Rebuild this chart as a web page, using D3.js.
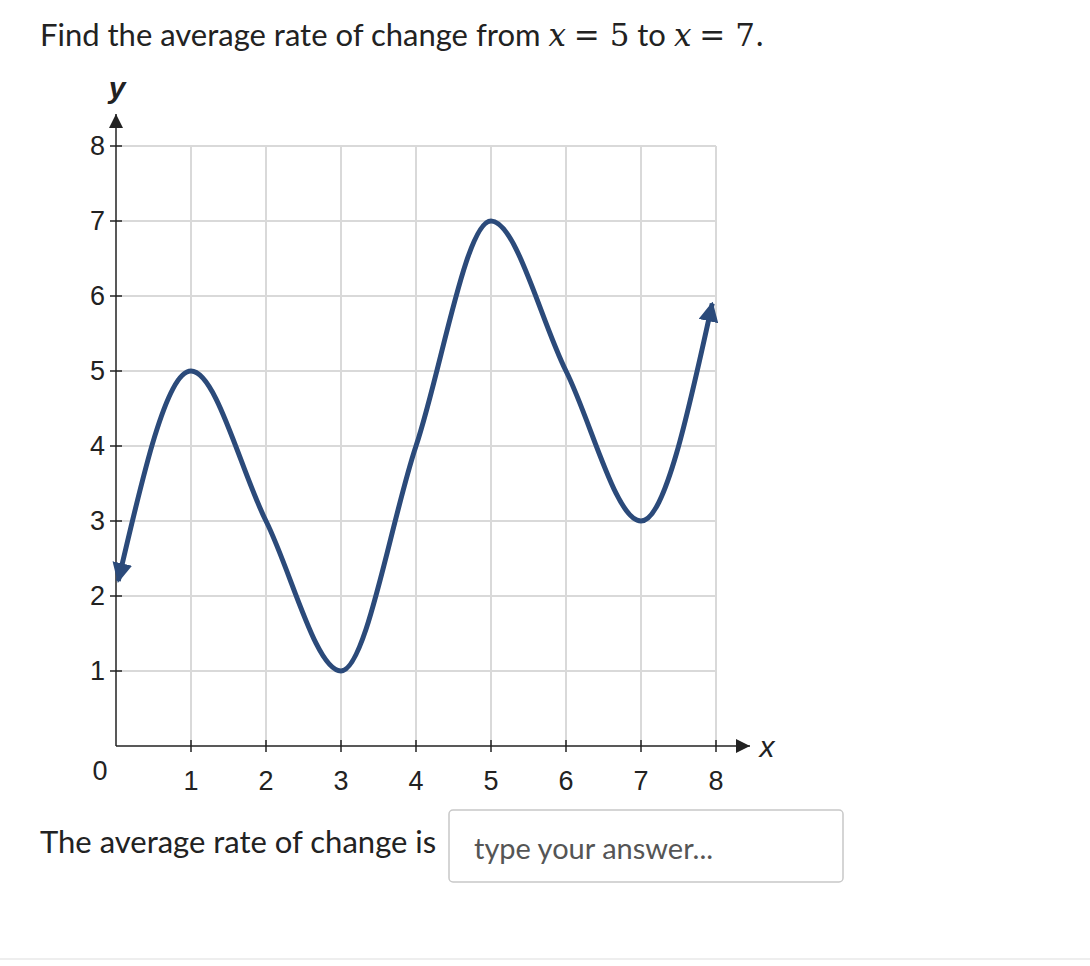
<!DOCTYPE html>
<html><head><meta charset="utf-8">
<script src="https://cdn.jsdelivr.net/npm/d3@7"></script>
<style>body{margin:0;background:#fff;}</style>
</head><body>
<script>
// data
var xTicks = [1, 2, 3, 4, 5, 6, 7, 8];
var yTicks = [1, 2, 3, 4, 5, 6, 7, 8];
var curveX = [0.03, 1, 2, 3, 4, 5, 6, 7, 7.95];
var curveY = [2.2, 5, 3, 1, 4, 7, 5, 3, 5.9];

var svg = d3.select("body").append("svg").attr("width", 1090).attr("height", 966);
var x = d3.scaleLinear().domain([0, 8]).range([116, 716]);
var y = d3.scaleLinear().domain([0, 8]).range([746, 146]);
var font = "Lato, 'Open Sans', sans-serif";

svg.append("text").attr("x", 40).attr("y", 46).attr("font-family", font).attr("font-size", 31).attr("fill", "#222")
    .html("Find the average rate of change from <tspan font-family='DejaVu Serif' font-style='italic'>x</tspan> <tspan font-family='DejaVu Serif'>= 5</tspan> to <tspan font-family='DejaVu Serif' font-style='italic'>x</tspan> <tspan font-family='DejaVu Serif'>= 7.</tspan>");

var defs = svg.append("defs");
defs.append("marker").attr("id", "ah").attr("viewBox", "0 0 10 10").attr("refX", 9).attr("refY", 5)
    .attr("markerWidth", 4).attr("markerHeight", 4).attr("orient", "auto-start-reverse")
    .append("path").attr("d", "M0,0L10,5L0,10z").attr("fill", "#2b4a7a");
defs.append("marker").attr("id", "ax").attr("viewBox", "0 0 10 10").attr("refX", 10).attr("refY", 5)
    .attr("markerWidth", 14).attr("markerHeight", 14).attr("markerUnits", "userSpaceOnUse").attr("orient", "auto")
    .append("path").attr("d", "M0,0L10,5L0,10z").attr("fill", "#222");

// grid
var g = svg.append("g").attr("stroke", "#d9d9d9").attr("stroke-width", 2);
xTicks.forEach(function (t) { g.append("line").attr("x1", x(t)).attr("x2", x(t)).attr("y1", y(0)).attr("y2", y(8)); });
yTicks.forEach(function (t) { g.append("line").attr("x1", x(0)).attr("x2", x(8)).attr("y1", y(t)).attr("y2", y(t)); });

// axes
svg.append("line").attr("x1", x(0)).attr("x2", x(0)).attr("y1", y(0)).attr("y2", 114).attr("stroke", "#222").attr("stroke-width", 1.5).attr("marker-end", "url(#ax)");
svg.append("line").attr("x1", x(0)).attr("x2", 750).attr("y1", y(0)).attr("y2", y(0)).attr("stroke", "#222").attr("stroke-width", 1.5).attr("marker-end", "url(#ax)");
var tf = "Liberation Sans, Arial, sans-serif";
yTicks.forEach(function (t) {
    svg.append("line").attr("x1", x(0) - 6).attr("x2", x(0) + 6).attr("y1", y(t)).attr("y2", y(t)).attr("stroke", "#222").attr("stroke-width", 1.5);
    svg.append("text").attr("x", 105).attr("y", y(t) + 9).attr("text-anchor", "end").attr("font-family", tf).attr("font-size", 27).attr("fill", "#222").text(t);
});
xTicks.forEach(function (t) {
    svg.append("line").attr("x1", x(t)).attr("x2", x(t)).attr("y1", y(0) - 6).attr("y2", y(0) + 6).attr("stroke", "#222").attr("stroke-width", 1.5);
    svg.append("text").attr("x", x(t)).attr("y", 790).attr("text-anchor", "middle").attr("font-family", tf).attr("font-size", 27).attr("fill", "#222").text(t);
});
svg.append("text").attr("x", 100).attr("y", 780).attr("text-anchor", "middle").attr("font-family", tf).attr("font-size", 27).attr("fill", "#222").text("0");
svg.append("text").attr("x", 117).attr("y", 98).attr("text-anchor", "middle").attr("font-family", tf).attr("font-size", 30).attr("font-style", "italic").attr("font-weight", "bold").attr("fill", "#222").text("y");
svg.append("text").attr("x", 767).attr("y", 757).attr("text-anchor", "middle").attr("font-family", tf).attr("font-size", 30).attr("font-style", "italic").attr("fill", "#222").text("x");

// curve
var pts = curveX.map(function (v, i) { return [v, curveY[i]]; });
var line = d3.line().x(function (d) { return x(d[0]); }).y(function (d) { return y(d[1]); }).curve(d3.curveMonotoneX);
svg.append("path").datum(pts).attr("d", line).attr("fill", "none").attr("stroke", "#2b4a7a").attr("stroke-width", 5)
    .attr("marker-start", "url(#ah)").attr("marker-end", "url(#ah)");

// answer line
svg.append("text").attr("x", 40).attr("y", 853).attr("font-family", font).attr("font-size", 31).attr("fill", "#222").text("The average rate of change is");
svg.append("rect").attr("x", 449).attr("y", 810).attr("width", 394).attr("height", 72).attr("rx", 4).attr("fill", "#fff").attr("stroke", "#c8c8c8").attr("stroke-width", 1.5);
svg.append("text").attr("x", 474).attr("y", 859).attr("font-family", font).attr("font-size", 29).attr("fill", "#555").text("type your answer...");
svg.append("line").attr("x1", 0).attr("x2", 1090).attr("y1", 959).attr("y2", 959).attr("stroke", "#eee").attr("stroke-width", 2);
</script>
</body></html>
